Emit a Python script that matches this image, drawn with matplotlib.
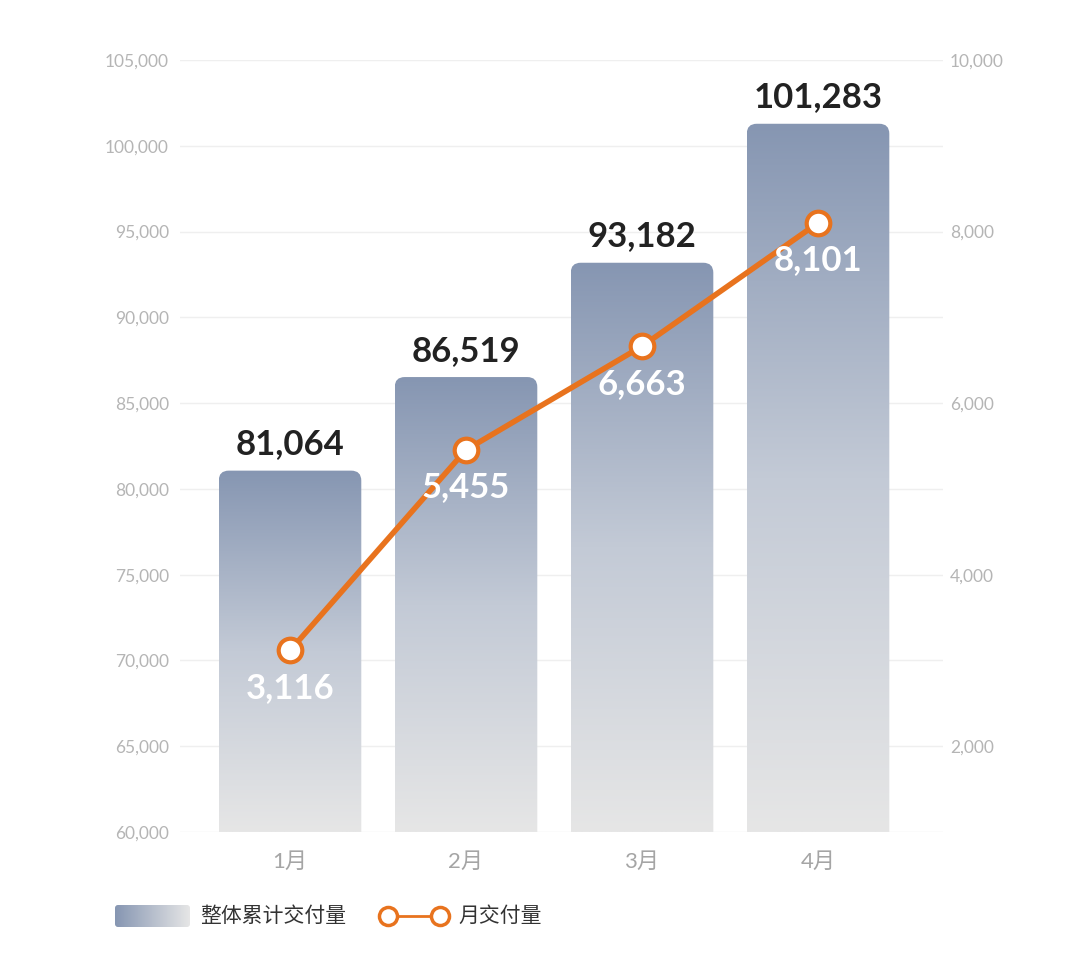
import numpy as np
import matplotlib
matplotlib.use("Agg")
import matplotlib.pyplot as plt
from matplotlib.patches import FancyBboxPatch
from matplotlib.colors import LinearSegmentedColormap

categories = ["1月", "2月", "3月", "4月"]
cumulative = [81064, 86519, 93182, 101283]
monthly = [3116, 5455, 6663, 8101]
left_ticks = [60000, 65000, 70000, 75000, 80000, 85000, 90000, 95000, 100000, 105000]
right_ticks = [2000, 4000, 6000, 8000, 10000]
legend_labels = ["整体累计交付量", "月交付量"]

plt.rcParams['font.family'] = ['Lato', 'Noto Sans CJK SC', 'DejaVu Sans']

W, H = 1079, 956
fig = plt.figure(figsize=(W / 100, H / 100), dpi=100)
fig.patch.set_facecolor("white")
ax = fig.add_axes([180 / W, 1 - 832 / H, (943 - 180) / W, (832 - 60) / H])
ax2 = ax.twinx()

XL = (-0.625, 3.71)
ax.set_xlim(*XL)
ax.set_ylim(60000, 105000)
ax2.set_ylim(1000, 10000)

top_col = "#8696b2"
bot_col = "#e6e6e6"
cmap = LinearSegmentedColormap.from_list("g", [bot_col, "#c3cad6", top_col])
grad = np.linspace(0, 1, 256).reshape(-1, 1)

# data units per pixel ratio for rounded corners
xs_per_px = (XL[1] - XL[0]) / 763
ys_per_px = 45000 / 772

bw = 0.81
for i, v in enumerate(cumulative):
    x0 = i - bw / 2
    patch = FancyBboxPatch((x0, 60000 - 3000), bw, v - 60000 + 3000,
                           boxstyle="round,pad=0,rounding_size=%f" % (10 * xs_per_px),
                           mutation_aspect=ys_per_px / xs_per_px,
                           facecolor="none", edgecolor="none")
    ax.add_patch(patch)
    im = ax.imshow(grad, extent=(x0, x0 + bw, 60000, v), origin="lower",
                   cmap=cmap, aspect="auto", zorder=1)
    im.set_clip_path(patch)
    ax.text(i, v + 600, f"{v:,}", ha="center", va="bottom", fontsize=25,
            fontweight="bold", color="#222222", zorder=5)

ax.set_xlim(*XL)
ax.set_ylim(60000, 105000)

for t in left_ticks:
    ax.axhline(t, color="#efefef", lw=1, zorder=0)

ax.set_yticks(left_ticks)
ax.set_yticklabels([f"{t:,}" for t in left_ticks])
ax.tick_params(axis="y", length=0, pad=8, labelsize=12.5, labelcolor="#b5b5b5")
ax.set_xticks(range(len(categories)))
ax.set_xticklabels(categories)
ax.tick_params(axis="x", length=0, pad=14, labelsize=16, labelcolor="#a5a5a5")

orange = "#e8731e"
ax2.plot(range(len(monthly)), monthly, color=orange, lw=4, marker="o",
         markersize=17, markerfacecolor="white", markeredgecolor=orange,
         markeredgewidth=3, zorder=6)
for i, v in enumerate(monthly):
    ax2.text(i, v - 250, f"{v:,}", ha="center", va="top", fontsize=25,
             fontweight="bold", color="white", zorder=7)
ax2.set_yticks(right_ticks)
ax2.set_yticklabels([f"{t:,}" for t in right_ticks])
ax2.tick_params(axis="y", length=0, pad=5, labelsize=12.5, labelcolor="#b5b5b5")

for a in (ax, ax2):
    for s in a.spines.values():
        s.set_visible(False)
ax.set_xlim(*XL)

# legend (manual)
lax = fig.add_axes([0, 0, 1, 1], facecolor="none")
lax.set_xlim(0, W)
lax.set_ylim(H, 0)
lax.axis("off")
lgrad = np.linspace(0, 1, 256).reshape(1, -1)
lcmap = LinearSegmentedColormap.from_list("l", [top_col, bot_col])
lp = FancyBboxPatch((115, 905), 75, 22, boxstyle="round,pad=0,rounding_size=3",
                    facecolor="none", edgecolor="none")
lax.add_patch(lp)
lim = lax.imshow(lgrad, extent=(115, 190, 927, 905), cmap=lcmap, aspect="auto")
lim.set_clip_path(lp)
lax.text(200, 916, legend_labels[0], ha="left", va="center", fontsize=15,
         color="#333333", family=["Noto Sans CJK SC"])
lax.plot([388, 440], [916, 916], color=orange, lw=2)
lax.plot([388, 440], [916, 916], ls="none", marker="o", markersize=13,
         markerfacecolor="white", markeredgecolor=orange, markeredgewidth=2.5)
lax.text(458, 916, legend_labels[1], ha="left", va="center", fontsize=15,
         color="#333333", family=["Noto Sans CJK SC"])

fig.savefig("out.png", dpi=100, facecolor="white")
